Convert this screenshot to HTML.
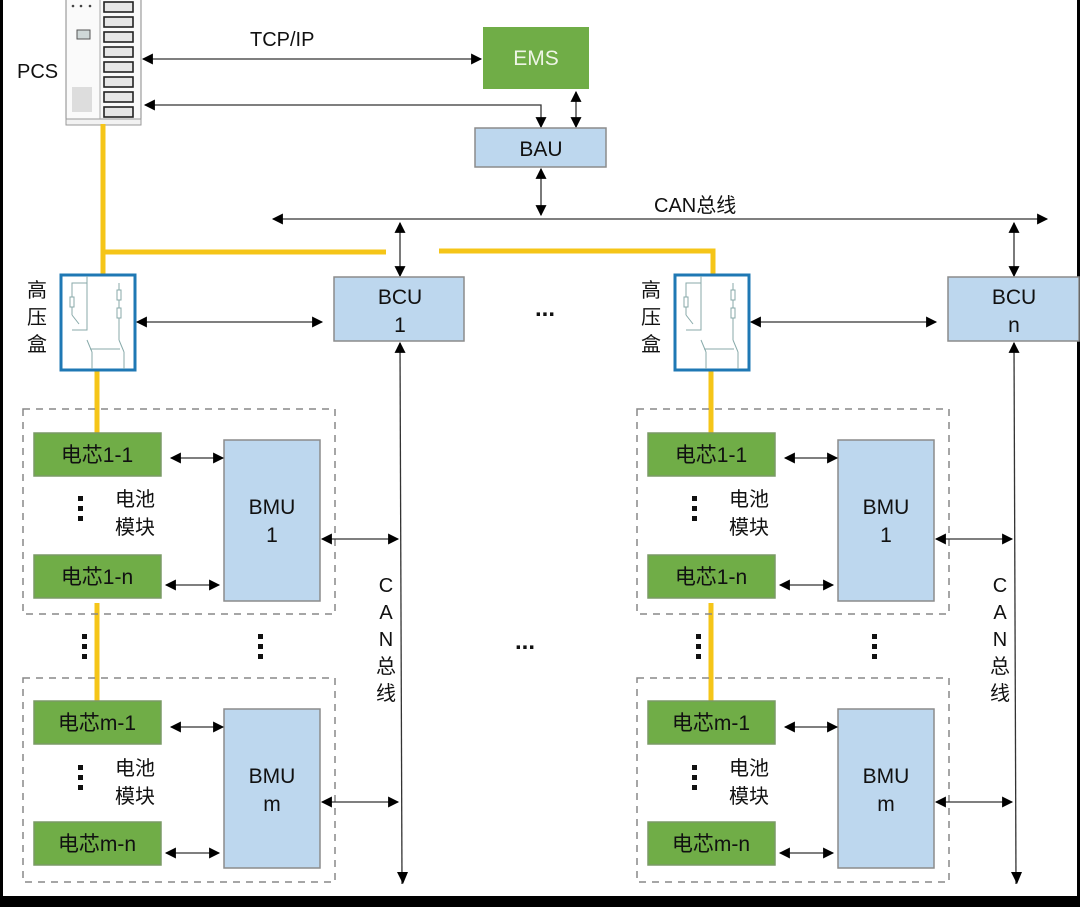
<!DOCTYPE html>
<html><head><meta charset="utf-8"><style>
html,body{margin:0;padding:0;background:#fff;}
svg{display:block;}
text{font-family:"Liberation Sans","Noto Sans CJK SC",sans-serif;}
</style></head><body>
<svg width="1080" height="907" viewBox="0 0 1080 907" xmlns="http://www.w3.org/2000/svg">
<defs>
<marker id="a" viewBox="0 0 10 10" refX="9" refY="5" markerWidth="12" markerHeight="11" orient="auto-start-reverse" markerUnits="userSpaceOnUse"><path d="M0,0 L10,5 L0,10 z" fill="#000"/></marker>
</defs>
<rect x="0" y="0" width="1080" height="907" fill="#fff"/>
<rect x="0" y="0" width="3" height="907" fill="#000"/>
<rect x="1077" y="0" width="3" height="907" fill="#000"/>
<rect x="0" y="896" width="1080" height="11" fill="#000"/>

<!-- PCS cabinet -->
<rect x="66" y="-2" width="75" height="121" fill="#fafafa" stroke="#888" stroke-width="1"/>
<rect x="66" y="119" width="75" height="6" fill="#f2f2f2" stroke="#999" stroke-width="1"/>
<line x1="100" y1="0" x2="100" y2="119" stroke="#aaa"/>
<circle cx="73" cy="6" r="1.3" fill="#444"/><circle cx="81" cy="6" r="1.3" fill="#444"/><circle cx="90" cy="6" r="1.3" fill="#444"/>
<rect x="77" y="30" width="13" height="9" fill="#cfd8d8" stroke="#555"/>
<rect x="72" y="87" width="20" height="25" fill="#ddd"/>
<g fill="#e6e6e6" stroke="#222" stroke-width="1.6">
<rect x="104" y="2" width="29" height="10"/><rect x="104" y="17" width="29" height="10"/><rect x="104" y="32" width="29" height="10"/><rect x="104" y="47" width="29" height="10"/><rect x="104" y="62" width="29" height="10"/><rect x="104" y="77" width="29" height="10"/><rect x="104" y="92" width="29" height="10"/><rect x="104" y="107" width="29" height="10"/>
</g>
<text x="17" y="78" font-size="20" fill="#111">PCS</text>

<!-- TCP/IP -->
<text x="250" y="46" font-size="20" fill="#111">TCP/IP</text>
<line x1="143" y1="59" x2="481" y2="59" stroke="#333" stroke-width="1.3" marker-start="url(#a)" marker-end="url(#a)"/>
<rect x="483" y="27" width="106" height="62" fill="#70ad47"/>
<text x="536" y="65" font-size="21" fill="#eef5e6" text-anchor="middle">EMS</text>
<polyline points="145,105 541,105 541,127" fill="none" stroke="#333" stroke-width="1.3" marker-start="url(#a)" marker-end="url(#a)"/>
<line x1="576" y1="92" x2="576" y2="127" stroke="#333" stroke-width="1.3" marker-start="url(#a)" marker-end="url(#a)"/>
<rect x="475" y="128" width="131" height="39" fill="#bdd7ee" stroke="#8c8c8c" stroke-width="1.5"/>
<text x="541" y="156" font-size="21" fill="#111" text-anchor="middle">BAU</text>
<line x1="541" y1="169" x2="541" y2="215" stroke="#333" stroke-width="1.3" marker-start="url(#a)" marker-end="url(#a)"/>

<!-- CAN bus -->
<line x1="273" y1="219" x2="1047" y2="219" stroke="#333" stroke-width="1.3" marker-start="url(#a)" marker-end="url(#a)"/>
<text x="654" y="212" font-size="20" fill="#111">CAN总线</text>

<!-- yellow power -->
<g stroke="#f5c518" stroke-width="5" fill="none">
<line x1="103" y1="124" x2="103" y2="276"/>
<line x1="103" y1="252" x2="386" y2="252"/>
<polyline points="439,251 713,251 713,276"/>
<line x1="97" y1="370" x2="97" y2="434"/>
<line x1="97" y1="603" x2="97" y2="701"/>
<line x1="711" y1="370" x2="711" y2="434"/>
<line x1="711" y1="603" x2="711" y2="701"/>
</g>

<!-- BCU1 -->
<line x1="400" y1="223" x2="400" y2="276" stroke="#333" stroke-width="1.3" marker-start="url(#a)" marker-end="url(#a)"/>
<rect x="334" y="277" width="130" height="64" fill="#bdd7ee" stroke="#8c8c8c" stroke-width="1.5"/>
<text x="400" y="304" font-size="21" fill="#111" text-anchor="middle">BCU</text>
<text x="400" y="332" font-size="21" fill="#111" text-anchor="middle">1</text>
<text x="545" y="316" font-size="24" font-weight="bold" fill="#111" text-anchor="middle">...</text>
<text x="525" y="649" font-size="24" font-weight="bold" fill="#111" text-anchor="middle">...</text>

<!-- BCU n -->
<line x1="1014" y1="223" x2="1014" y2="276" stroke="#333" stroke-width="1.3" marker-start="url(#a)" marker-end="url(#a)"/>
<rect x="948" y="277" width="131" height="64" fill="#bdd7ee" stroke="#8c8c8c" stroke-width="1.5"/>
<text x="1014" y="304" font-size="21" fill="#111" text-anchor="middle">BCU</text>
<text x="1014" y="332" font-size="21" fill="#111" text-anchor="middle">n</text>

<g id="col">
<text x="37" y="297" font-size="20" fill="#111" text-anchor="middle">高</text>
<text x="37" y="324" font-size="20" fill="#111" text-anchor="middle">压</text>
<text x="37" y="351" font-size="20" fill="#111" text-anchor="middle">盒</text>
<rect x="61" y="275" width="74" height="95" fill="#fff" stroke="#1f78b4" stroke-width="3"/>
<g stroke="#8aa" stroke-width="1" fill="none">
<polyline points="87,276 87,283 72,283 72,297"/><rect x="70" y="297" width="4" height="10"/><line x1="72" y1="307" x2="72" y2="315"/><line x1="72" y1="315" x2="79" y2="324"/><polyline points="87,283 87,330 72,330"/>
<line x1="119" y1="283" x2="119" y2="290"/><rect x="117" y="290" width="4" height="10"/><line x1="119" y1="300" x2="119" y2="308"/><rect x="117" y="308" width="4" height="10"/><line x1="119" y1="318" x2="119" y2="340"/>
<line x1="87" y1="340" x2="92" y2="352"/><line x1="119" y1="340" x2="124" y2="352"/><line x1="90" y1="349" x2="120" y2="349"/><line x1="92" y1="352" x2="92" y2="369"/><line x1="124" y1="352" x2="124" y2="369"/>
</g>
<line x1="137" y1="322" x2="322" y2="322" stroke="#333" stroke-width="1.3" marker-start="url(#a)" marker-end="url(#a)"/>

<rect x="23" y="409" width="312" height="205" fill="none" stroke="#888" stroke-width="1.5" stroke-dasharray="7,6"/>
<rect x="23" y="678" width="312" height="204" fill="none" stroke="#888" stroke-width="1.5" stroke-dasharray="7,6"/>

<g fill="#70ad47" stroke="#7a9a66" stroke-width="1.5">
<rect x="34" y="433" width="127" height="43"/>
<rect x="34" y="555" width="127" height="43"/>
<rect x="34" y="701" width="127" height="43"/>
<rect x="34" y="822" width="127" height="43"/>
</g>
<g font-size="21" fill="#111" text-anchor="middle">
<text x="97" y="462">电芯1-1</text>
<text x="97" y="584">电芯1-n</text>
<text x="97" y="730">电芯m-1</text>
<text x="97" y="851">电芯m-n</text>
</g>
<g font-size="20" fill="#111" text-anchor="middle">
<text x="135" y="506">电池</text><text x="135" y="534">模块</text>
<text x="135" y="775">电池</text><text x="135" y="803">模块</text>
</g>
<g fill="#111">
<rect x="78" y="496" width="5" height="5"/><rect x="78" y="506" width="5" height="5"/><rect x="78" y="516" width="5" height="5"/>
<rect x="78" y="765" width="5" height="5"/><rect x="78" y="775" width="5" height="5"/><rect x="78" y="785" width="5" height="5"/>
<rect x="82" y="634" width="5" height="5"/><rect x="82" y="644" width="5" height="5"/><rect x="82" y="654" width="5" height="5"/>
<rect x="258" y="634" width="5" height="5"/><rect x="258" y="644" width="5" height="5"/><rect x="258" y="654" width="5" height="5"/>
</g>
<rect x="224" y="440" width="96" height="161" fill="#bdd7ee" stroke="#8c8c8c" stroke-width="1.5"/>
<rect x="224" y="709" width="96" height="159" fill="#bdd7ee" stroke="#8c8c8c" stroke-width="1.5"/>
<g font-size="21" fill="#111" text-anchor="middle">
<text x="272" y="514">BMU</text><text x="272" y="542">1</text>
<text x="272" y="783">BMU</text><text x="272" y="811">m</text>
</g>
<g stroke="#333" stroke-width="1.3">
<line x1="171" y1="458" x2="223" y2="458" marker-start="url(#a)" marker-end="url(#a)"/>
<line x1="166" y1="585" x2="219" y2="585" marker-start="url(#a)" marker-end="url(#a)"/>
<line x1="171" y1="727" x2="223" y2="727" marker-start="url(#a)" marker-end="url(#a)"/>
<line x1="166" y1="853" x2="219" y2="853" marker-start="url(#a)" marker-end="url(#a)"/>
<line x1="322" y1="539" x2="398" y2="539" marker-start="url(#a)" marker-end="url(#a)"/>
<line x1="322" y1="802" x2="398" y2="802" marker-start="url(#a)" marker-end="url(#a)"/>
<line x1="402" y1="884" x2="400" y2="343" marker-end="url(#a)"/>
</g>
<path d="M397,872 L403,884 L408,872 z" fill="#000"/>
<g font-size="20" fill="#111" text-anchor="middle">
<text x="386" y="592">C</text><text x="386" y="619">A</text><text x="386" y="646">N</text><text x="386" y="673">总</text><text x="386" y="700">线</text>
</g>
</g>

<use href="#col" x="614" y="0"/>
</svg>
</body></html>
